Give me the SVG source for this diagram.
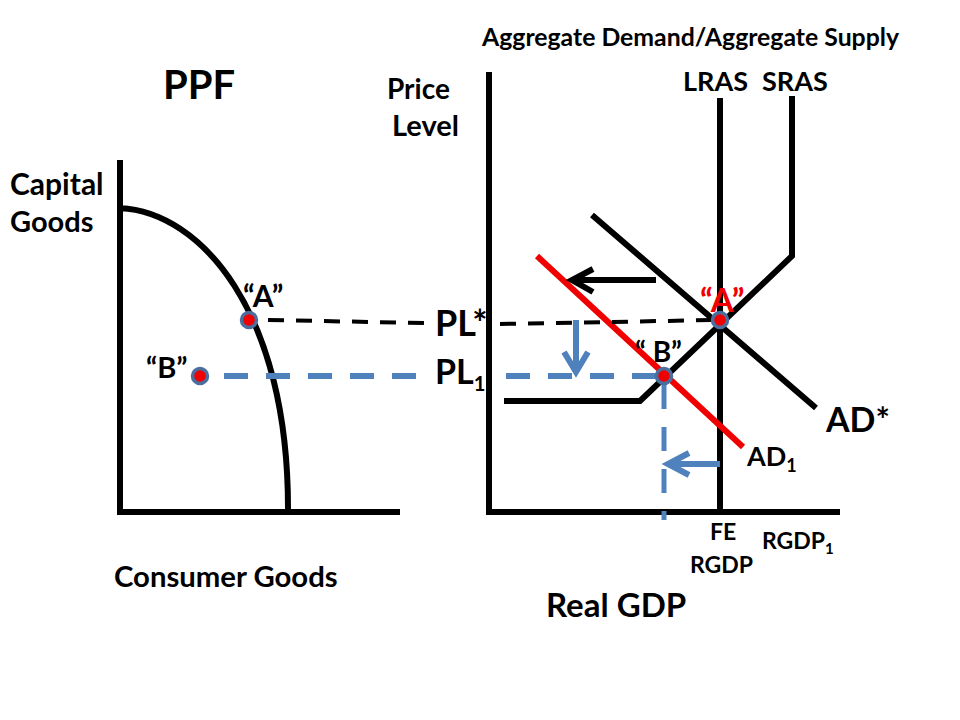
<svg xmlns="http://www.w3.org/2000/svg" width="960" height="720" viewBox="0 0 960 720">
<style>
text{font-family:"Lato","Open Sans","Liberation Sans",sans-serif;font-weight:700;fill:#000}
.k{fill:none;stroke:#000;stroke-width:6}
.b{fill:none;stroke:#4f81bd;stroke-width:6}
.d{fill:#f00000;stroke:#4a6f9f;stroke-width:3.5}
</style>
<rect width="960" height="720" fill="#fff"/>
<g id="connectors">
<path class="k" d="M120 160V515M119 512H400M120 208C200 212 289 310 288 512"/>
<path class="k" d="M489 72V515M488 512H840M720 98V512M792 96V256L640 401H504M592 215L816 408"/>
<path fill="none" stroke="#f00000" stroke-width="6" d="M537 256L743 447"/>
<path fill="none" stroke="#000" stroke-width="4" stroke-dasharray="16 12" d="M268 320L425 323"/>
<path fill="none" stroke="#000" stroke-width="4" stroke-dasharray="16 12" d="M500 324L716 320"/>
<path class="b" stroke-dasharray="24 18" d="M224 376H416M506 376H664"/>
<path class="b" style="stroke-width:5" stroke-dasharray="24 18" d="M664 385V520"/>
<path class="b" d="M576 320V372M564 352L576 372L588 352M720 464H668M689 453L668 464L689 475"/>
<path class="k" d="M656 280H572M593 269L572 280L593 292"/>
</g>
<g id="point-a-ppf"><circle class="d" cx="249" cy="320" r="7.5"/><text x="243" y="307" font-size="30">“A”</text></g>
<g id="point-b-ppf"><circle class="d" cx="200" cy="376" r="7.5"/><text x="146" y="378" font-size="29">“B”</text></g>
<g id="point-a-ad"><circle class="d" cx="720" cy="320" r="7.5"/><text x="700" y="312" font-size="33" style="fill:#f00000">“A”</text></g>
<g id="point-b-ad"><circle class="d" cx="664" cy="376" r="7.5"/><text x="635" y="362" font-size="28">“ B”</text></g>
<g id="labels">
<text x="163" y="99" font-size="40">PPF</text>
<text x="10" y="195" font-size="30">Capital</text><text x="10" y="232" font-size="29">Goods</text>
<text x="114" y="587" font-size="29.3">Consumer Goods</text>
<text x="482" y="46" font-size="24.8">Aggregate Demand/Aggregate Supply</text>
<text x="387" y="99" font-size="28">Price</text><text x="392" y="136" font-size="29">Level</text>
<text x="683" y="91" font-size="27">LRAS</text><text x="762" y="91" font-size="27">SRAS</text>
<text x="435" y="336" font-size="36">PL*</text>
<text x="435" y="384" font-size="34">PL<tspan font-size="20" dy="7">1</tspan></text>
<text x="826" y="432" font-size="34">AD*</text>
<text x="747" y="466" font-size="27">AD<tspan font-size="18" dy="6">1</tspan></text>
<text x="710" y="540" font-size="23">FE</text><text x="690" y="573" font-size="23">RGDP</text>
<text x="762" y="549" font-size="23">RGDP<tspan font-size="15" dy="5">1</tspan></text>
<text x="546" y="617" font-size="33">Real GDP</text>
</g>
</svg>
